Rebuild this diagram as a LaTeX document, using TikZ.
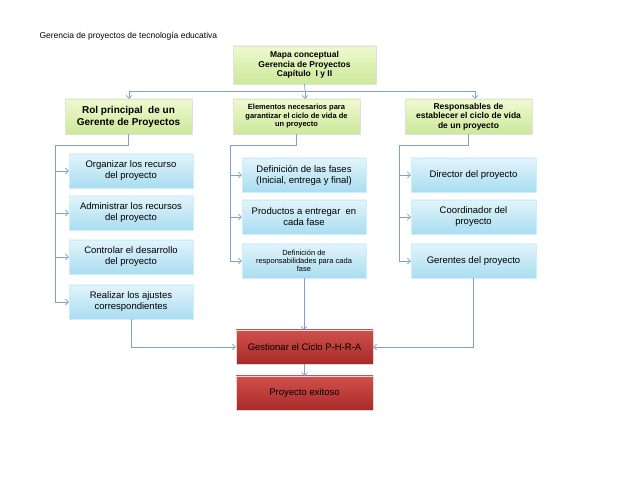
\documentclass[tikz,border=0pt]{standalone}
\usepackage{fontspec}
\setmainfont{Liberation Sans}
\usetikzlibrary{arrows.meta}
\definecolor{ln}{HTML}{7F9FCF}
\definecolor{gt}{HTML}{F0F9D0}
\definecolor{gb}{HTML}{CCE89A}
\definecolor{bt}{HTML}{E2F4FB}
\definecolor{bb}{HTML}{A9DDF0}
\definecolor{rt}{HTML}{D0504C}
\definecolor{rb}{HTML}{A82A26}
\begin{document}
\begin{tikzpicture}[x=1pt,y=-1pt,
  gbox/.style={draw=black!12,top color=gt,bottom color=gb,align=center,font=\bfseries\fontsize{8.5}{9.5}\selectfont},
  bbox/.style={draw=cyan!20,top color=bt,bottom color=bb,align=center,font=\fontsize{9.5}{11}\selectfont},
  rbox/.style={draw=black!15,top color=rt,bottom color=rb,align=center,font=\fontsize{9.5}{11}\selectfont},
  con/.style={draw=ln,line width=0.7pt,-{Straight Barb[length=3pt,width=6pt]}},
  ln0/.style={draw=ln,line width=0.7pt}]
\useasboundingbox (0,0) rectangle (638,478);
\node[anchor=west,font=\fontsize{8.5}{9}\selectfont] (t) at (36,36) {Gerencia de proyectos de tecnología educativa};
\newcommand\bx[6]{\node[#1,minimum width=#4-#3,minimum height=#6-#5,inner sep=1pt] (#2) at ({(#3+#4)/2},{(#5+#6)/2})}
\bx{gbox}{top}{233}{376}{46}{84}{Mapa conceptual\\Gerencia de Proyectos\\Capítulo \ I y II};
\bx{gbox,font=\bfseries\fontsize{10}{12}\selectfont}{rol}{65}{192}{99}{134}{Rol principal \ de un\\Gerente de Proyectos};
\bx{gbox,font=\bfseries\fontsize{7.5}{8.5}\selectfont}{ele}{233}{360}{99}{134}{Elementos necesarios para\\garantizar el ciclo de vida de\\un proyecto};
\bx{gbox}{res}{405}{532}{99}{134}{Responsables de\\establecer el ciclo de vida\\de un proyecto};
\bx{bbox}{org}{69}{193}{154}{188}{Organizar los recurso\\del proyecto};
\bx{bbox}{adm}{69}{193}{196}{230}{Administrar los recursos\\del proyecto};
\bx{bbox}{ctr}{69}{193}{240}{274}{Controlar el desarrollo\\del proyecto};
\bx{bbox}{rea}{69}{193}{285}{319}{Realizar los ajustes\\correspondientes};
\bx{bbox}{def}{242}{366}{158}{192}{Definición de las fases\\(Inicial, entrega y final)};
\bx{bbox}{pro}{242}{366}{200}{234}{Productos a entregar \ en\\cada fase};
\bx{bbox,font=\fontsize{7.5}{8}\selectfont}{rsp}{242}{366}{244}{278}{Definición de\\responsabilidades para cada\\fase};
\bx{bbox}{dir}{411}{536}{158}{192}{Director del proyecto};
\bx{bbox}{coo}{411}{536}{200}{234}{Coordinador del\\proyecto};
\bx{bbox}{ger}{411}{536}{244}{278}{Gerentes del proyecto};
\bx{rbox}{ges}{236}{373}{330}{364}{Gestionar el Ciclo P-H-R-A};
\bx{rbox}{exi}{236}{373}{376}{410}{Proyecto exitoso};
\coordinate (h) at (305,91);
\draw[ln0] (top.south) -- (h);
\draw[ln0] (129,91) -- (475,91);
\draw[con] (129,91) -- (rol.north -| 129,0);
\draw[con] (h) -- (ele.north -| h);
\draw[con] (475,91) -- (res.north -| 475,0);
\draw[ln0] (rol.south) -- (128.5,145) -- (55,145) -- (55,302);
\foreach \n in {org,adm,ctr,rea} \draw[con] (55,0 |- \n.west) -- (\n.west);
\draw[ln0] (ele.south) -- (296.5,145) -- (230,145) -- (230,261);
\foreach \n in {def,pro,rsp} \draw[con] (230,0 |- \n.west) -- (\n.west);
\draw[ln0] (res.south) -- (468.5,145) -- (399,145) -- (399,261);
\foreach \n in {dir,coo,ger} \draw[con] (399,0 |- \n.west) -- (\n.west);
\draw[con] (rea.south) |- (ges.west);
\draw[con] (ger.south) |- (ges.east);
\draw[con] (rsp.south) -- (ges.north -| rsp.south);
\draw[con] (ges.south) -- (exi.north);
\end{tikzpicture}
\end{document}
